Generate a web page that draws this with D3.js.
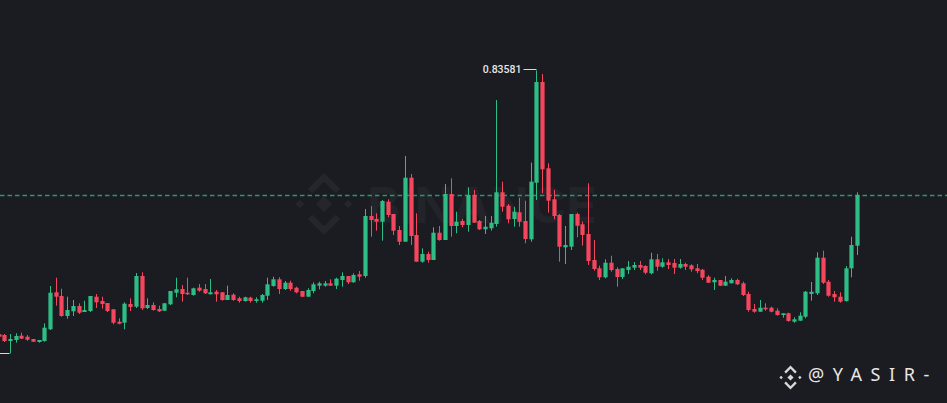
<!DOCTYPE html>
<html>
<head>
<meta charset="utf-8">
<script src="https://cdn.jsdelivr.net/npm/d3@7"></script>
<style>
  html, body { margin: 0; padding: 0; background: #1b1c21; overflow: hidden; }
  svg { display: block; }
</style>
</head>
<body>
<figure style="margin:0"></figure>
<script>
(() => {

  ////////////////////////////////////
  ///////////// Data /////////////////
  ////////////////////////////////////

  // one entry per candle, oldest first
  const open = [
    0.3082, 0.3068, 0.2948, 0.2968, 0.3054, 0.3034, 0.2988, 0.2928, 0.2948, 0.3182,
    0.3922, 0.3848, 0.3448, 0.3542, 0.3648, 0.3528, 0.3548, 0.3834, 0.3748, 0.3708,
    0.3582, 0.3334, 0.3314, 0.3688, 0.3634, 0.4248, 0.3608, 0.3668, 0.3588, 0.3554,
    0.3682, 0.3914, 0.3988, 0.3914, 0.3868, 0.4014, 0.3988, 0.3882, 0.3934, 0.3922,
    0.3768, 0.3874, 0.3802, 0.3748, 0.3814, 0.3748, 0.3754, 0.3854, 0.4048, 0.4182,
    0.3988, 0.4114, 0.4014, 0.3948, 0.3834, 0.3948, 0.4054, 0.4054, 0.4102, 0.4054,
    0.4168, 0.4248, 0.4122, 0.4282, 0.4248, 0.5448, 0.5388, 0.5334, 0.5734, 0.5488,
    0.5168, 0.4934, 0.6214, 0.5068, 0.4534, 0.4688, 0.4568, 0.5114, 0.4968, 0.5888,
    0.5248, 0.5348, 0.5268, 0.5868, 0.5348, 0.5182, 0.5202, 0.5288, 0.5922, 0.5654,
    0.5388, 0.5522, 0.5348, 0.4982, 0.6114, 0.8128, 0.6402, 0.5782, 0.5468, 0.4822,
    0.4834, 0.5488, 0.5282, 0.5088, 0.4568, 0.4402, 0.4222, 0.4514, 0.4388, 0.4228,
    0.4368, 0.4414, 0.4468, 0.4448, 0.4302, 0.4582, 0.4434, 0.4522, 0.4508, 0.4414,
    0.4488, 0.4462, 0.4402, 0.4374, 0.4234, 0.4122, 0.4168, 0.4054, 0.4102, 0.4168,
    0.4102, 0.3888, 0.3588, 0.3534, 0.3614, 0.3614, 0.3554, 0.3468, 0.3502, 0.3334,
    0.3354, 0.3434, 0.3888, 0.3902, 0.4614, 0.4134, 0.3888, 0.3834, 0.3748, 0.4402,
    0.4854
  ]
  const high = [
    0.3108, 0.3088, 0.3088, 0.3102, 0.3114, 0.3068, 0.2988, 0.2968, 0.3302, 0.4048,
    0.4214, 0.3994, 0.3834, 0.3768, 0.3702, 0.3754, 0.3848, 0.3888, 0.3834, 0.3708,
    0.3582, 0.3402, 0.3722, 0.3802, 0.4308, 0.4322, 0.3802, 0.3722, 0.3654, 0.3708,
    0.3948, 0.4214, 0.4068, 0.4214, 0.4014, 0.4088, 0.4088, 0.4188, 0.3968, 0.3928,
    0.4054, 0.3902, 0.3834, 0.3834, 0.3834, 0.3822, 0.3888, 0.4214, 0.4234, 0.4222,
    0.4148, 0.4154, 0.4034, 0.3948, 0.4002, 0.4122, 0.4134, 0.4148, 0.4182, 0.4214,
    0.4322, 0.4248, 0.4302, 0.4348, 0.5588, 0.5648, 0.5502, 0.5768, 0.5782, 0.5488,
    0.5248, 0.6648, 0.6288, 0.5502, 0.4802, 0.4734, 0.5222, 0.5248, 0.6088, 0.6202,
    0.5534, 0.5388, 0.6022, 0.5968, 0.5368, 0.5448, 0.5448, 0.7768, 0.6134, 0.5688,
    0.5634, 0.5814, 0.5754, 0.6514, 0.83581, 0.8288, 0.6502, 0.5968, 0.5488, 0.5248,
    0.5488, 0.5514, 0.5334, 0.6102, 0.4968, 0.4454, 0.4582, 0.4654, 0.4422, 0.4402,
    0.4548, 0.4528, 0.4548, 0.4462, 0.4714, 0.4688, 0.4602, 0.4588, 0.4588, 0.4588,
    0.4514, 0.4482, 0.4488, 0.4388, 0.4262, 0.4214, 0.4168, 0.4248, 0.4202, 0.4194,
    0.4134, 0.3934, 0.3688, 0.3768, 0.3702, 0.3634, 0.3602, 0.3502, 0.3514, 0.3422,
    0.3522, 0.3948, 0.4128, 0.4722, 0.4754, 0.4168, 0.3948, 0.3922, 0.4448, 0.5034,
    0.5922
  ]
  const low = [
    0.3008, 0.2928, 0.2698, 0.2914, 0.2988, 0.2954, 0.2928, 0.2914, 0.2934, 0.3168,
    0.3654, 0.3434, 0.3394, 0.3448, 0.3488, 0.3528, 0.3528, 0.3608, 0.3594, 0.3528,
    0.3282, 0.3282, 0.3182, 0.3548, 0.3608, 0.3568, 0.3588, 0.3554, 0.3528, 0.3548,
    0.3668, 0.3822, 0.3734, 0.3868, 0.3854, 0.3934, 0.3888, 0.3882, 0.3734, 0.3754,
    0.3768, 0.3754, 0.3714, 0.3734, 0.3714, 0.3714, 0.3714, 0.3768, 0.4034, 0.3888,
    0.3968, 0.3954, 0.3902, 0.3828, 0.3834, 0.3902, 0.3982, 0.4034, 0.4054, 0.3988,
    0.4034, 0.4088, 0.4114, 0.4154, 0.4214, 0.5034, 0.5154, 0.4954, 0.5422, 0.5068,
    0.4868, 0.4934, 0.4868, 0.4534, 0.4514, 0.4514, 0.4568, 0.4954, 0.4968, 0.5034,
    0.5102, 0.5222, 0.5134, 0.5314, 0.5168, 0.5088, 0.5154, 0.5234, 0.5534, 0.5302,
    0.5234, 0.5234, 0.4902, 0.4934, 0.5768, 0.5902, 0.5514, 0.5382, 0.4534, 0.4488,
    0.4768, 0.5022, 0.4854, 0.4468, 0.4354, 0.4168, 0.4202, 0.4334, 0.4034, 0.4188,
    0.4288, 0.4368, 0.4368, 0.4282, 0.4282, 0.4354, 0.4414, 0.4388, 0.4288, 0.4394,
    0.4368, 0.4334, 0.4302, 0.4168, 0.4108, 0.3968, 0.4048, 0.4048, 0.4102, 0.4068,
    0.3848, 0.3534, 0.3514, 0.3534, 0.3554, 0.3522, 0.3454, 0.3414, 0.3334, 0.3314,
    0.3354, 0.3402, 0.3754, 0.3868, 0.4088, 0.3834, 0.3734, 0.3714, 0.3734, 0.4222,
    0.4668
  ]
  const close = [
    0.3034, 0.2948, 0.2988, 0.3048, 0.2994, 0.2974, 0.2934, 0.2968, 0.3214, 0.3914,
    0.3834, 0.3448, 0.3568, 0.3648, 0.3514, 0.3568, 0.3848, 0.3722, 0.3688, 0.3548,
    0.3314, 0.3294, 0.3694, 0.3628, 0.4248, 0.3602, 0.3668, 0.3568, 0.3542, 0.3702,
    0.3948, 0.3982, 0.3888, 0.3882, 0.4002, 0.3954, 0.3902, 0.3922, 0.3882, 0.3768,
    0.3868, 0.3768, 0.3748, 0.3822, 0.3748, 0.3782, 0.3868, 0.4082, 0.4182, 0.3988,
    0.4114, 0.3988, 0.3922, 0.3834, 0.3968, 0.4082, 0.4102, 0.4102, 0.4054, 0.4194,
    0.4248, 0.4122, 0.4268, 0.4234, 0.5448, 0.5368, 0.5334, 0.5748, 0.5468, 0.5154,
    0.4934, 0.6214, 0.5048, 0.4534, 0.4688, 0.4568, 0.5114, 0.4968, 0.5888, 0.5248,
    0.5334, 0.5268, 0.5868, 0.5314, 0.5182, 0.5234, 0.5314, 0.5922, 0.5634, 0.5382,
    0.5534, 0.5334, 0.4988, 0.6134, 0.8128, 0.6382, 0.5754, 0.5448, 0.4834, 0.4868,
    0.5488, 0.5254, 0.5068, 0.4548, 0.4388, 0.4222, 0.4514, 0.4368, 0.4228, 0.4402,
    0.4434, 0.4468, 0.4414, 0.4314, 0.4582, 0.4434, 0.4522, 0.4468, 0.4414, 0.4488,
    0.4434, 0.4382, 0.4348, 0.4214, 0.4114, 0.4168, 0.4054, 0.4134, 0.4168, 0.4082,
    0.3868, 0.3568, 0.3534, 0.3614, 0.3582, 0.3534, 0.3468, 0.3502, 0.3348, 0.3382,
    0.3454, 0.3934, 0.3934, 0.4614, 0.4114, 0.3854, 0.3822, 0.3734, 0.4402, 0.4868,
    0.5868
  ]

  const candles = open.map((o, i) => ({ i: i, o: o, h: high[i], l: low[i], c: close[i] }))

  const maxIndex = d3.maxIndex(high)
  const minIndex = d3.minIndex(low)
  const lastPrice = close[close.length - 1]

  ////////////////////////////////////
  ///////////// SVG Setup ////////////
  ////////////////////////////////////

  const svgWidth = 947
  const svgHeight = 403

  const bg = '#1b1c21'
  const upColor = '#2ebd85'
  const downColor = '#f6465d'

  const svg = d3.select('figure')
    .append('svg')
    .attr('width', svgWidth)
    .attr('height', svgHeight)

  svg.append('rect')
    .attr('width', svgWidth)
    .attr('height', svgHeight)
    .attr('fill', bg)

  ////////////////////////////////////
  ///////// Scales ////////////////////
  ////////////////////////////////////

  // candle index -> x (the oldest candle is half cut off at the left edge)
  const x = d3.scaleLinear()
    .domain([0, candles.length - 1])
    .range([-1.5, 857])

  // price -> y, no axis shown in the picture
  const y = d3.scaleLinear()
    .domain([0.1708, 0.9768])
    .range([svgHeight, 0])

  const bodyWidth = 4.2

  ////////////////////////////////////
  ///////// Watermark /////////////////
  ////////////////////////////////////

  // binance logo drawn in a unit box centred on 0
  function logoPaths(g, cx, cy, r, fill) {
    const pts = [
      [[0, -0.26], [0.26, 0], [0, 0.26], [-0.26, 0]],
      [[-0.78, -0.14], [-0.64, 0], [-0.78, 0.14], [-0.92, 0]],
      [[0.78, -0.14], [0.92, 0], [0.78, 0.14], [0.64, 0]],
      [[0, -1], [0.52, -0.48], [0.38, -0.34], [0, -0.72], [-0.38, -0.34], [-0.52, -0.48]],
      [[0, 1], [0.52, 0.48], [0.38, 0.34], [0, 0.72], [-0.38, 0.34], [-0.52, 0.48]]
    ]
    const line = d3.line().x(d => cx + d[0] * r).y(d => cy + d[1] * r)
    g.selectAll(null)
      .data(pts)
      .enter().append('path')
      .attr('d', d => line(d) + 'Z')
      .attr('fill', fill)
  }

  const wm = svg.append('g')
  logoPaths(wm, 324, 204, 31, '#24262c')

  wm.append('text')
    .attr('x', 367)
    .attr('y', 223)
    .attr('textLength', 230)
    .attr('lengthAdjust', 'spacingAndGlyphs')
    .style('font-family', 'Inter, Roboto, sans-serif')
    .style('font-weight', 700)
    .style('font-size', '50px')
    .style('fill', '#22242a')
    .text('BINANCE')

  ////////////////////////////////////
  ///////// Draw ////////////////////
  ////////////////////////////////////

  // last price line
  svg.append('line')
    .attr('x1', 0)
    .attr('x2', svgWidth)
    .attr('y1', y(lastPrice) + 0.5)
    .attr('y2', y(lastPrice) + 0.5)
    .attr('stroke', upColor)
    .attr('stroke-opacity', 0.75)
    .attr('stroke-width', 1.5)
    .attr('stroke-dasharray', '4.5,3')

  const candleG = svg.append('g')
    .selectAll('g')
    .data(candles)
    .enter().append('g')
    .attr('fill', d => d.c >= d.o ? upColor : downColor)
    .attr('stroke', d => d.c >= d.o ? upColor : downColor)

  // wicks
  candleG.append('line')
    .attr('x1', d => Math.round(x(d.i)) + 0.5)
    .attr('x2', d => Math.round(x(d.i)) + 0.5)
    .attr('y1', d => y(d.h))
    .attr('y2', d => y(d.l))
    .attr('stroke-width', 1)

  // bodies
  candleG.append('rect')
    .attr('x', d => Math.round(x(d.i)) + 0.5 - bodyWidth / 2)
    .attr('width', bodyWidth)
    .attr('y', d => y(Math.max(d.o, d.c)))
    .attr('height', d => Math.max(1, Math.abs(y(d.o) - y(d.c))))
    .attr('stroke', 'none')

  ////////////////////////////////////
  ///////// High / low markers ////////
  ////////////////////////////////////

  const hx = Math.round(x(maxIndex)) + 0.5
  const hy = Math.round(y(high[maxIndex])) - 0.5
  svg.append('line')
    .attr('x1', hx - 13)
    .attr('x2', hx)
    .attr('y1', hy)
    .attr('y2', hy)
    .attr('stroke', '#d8d8d8')
    .attr('stroke-width', 1)
  svg.append('text')
    .attr('x', hx - 15)
    .attr('y', hy + 3.5)
    .attr('text-anchor', 'end')
    .style('font-family', 'Roboto, sans-serif')
    .style('font-size', '10.5px')
    .style('font-weight', 500)
    .style('fill', '#e6e6e6')
    .text(d3.format('.5f')(high[maxIndex]))

  // the low marker's label sits off the left edge, only its tick shows
  const lx = Math.round(x(minIndex)) + 0.5
  const ly = Math.round(y(low[minIndex])) - 0.5
  svg.append('line')
    .attr('x1', lx - 13)
    .attr('x2', lx - 1)
    .attr('y1', ly)
    .attr('y2', ly)
    .attr('stroke', '#d8d8d8')
    .attr('stroke-width', 1)

  ////////////////////////////////////
  ///////// Signature /////////////////
  ////////////////////////////////////

  const sig = svg.append('g')
  logoPaths(sig, 790.5, 377.5, 12, '#d9d9d9')

  sig.append('text')
    .attr('x', 808)
    .attr('y', 381)
    .style('font-family', "'Noto Sans', 'Open Sans', sans-serif")
    .style('font-size', '18px')
    .style('letter-spacing', '8.6px')
    .style('fill', '#e8e8e8')
    .text('@YASIR-')

})()
</script>
</body>
</html>
